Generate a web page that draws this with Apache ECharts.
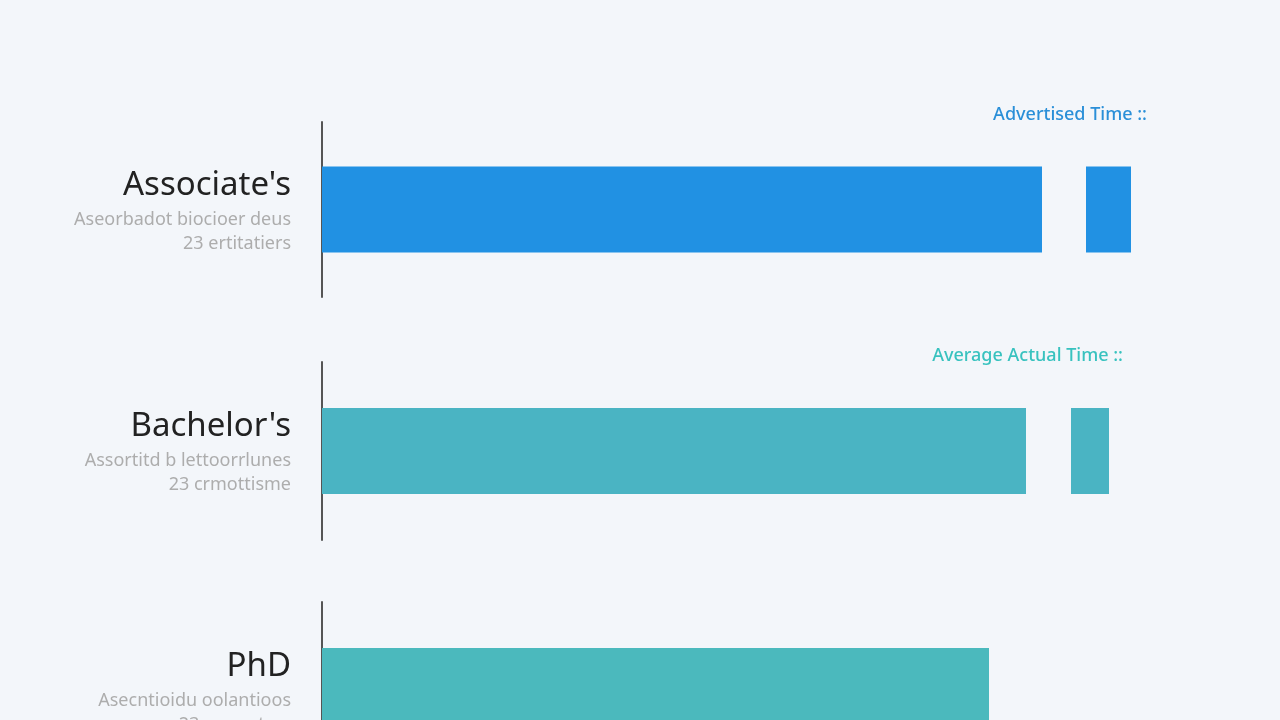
<!DOCTYPE html>
<html>
<head>
<meta charset="utf-8">
<script src="https://cdn.jsdelivr.net/npm/echarts@6/dist/echarts.min.js"></script>
<style>
  html, body { margin: 0; padding: 0; background: #f3f6fa; }
  #main { width: 1280px; height: 720px; }
</style>
</head>
<body>
<div id="main"></div>
<script>
// categories
var degrees = ["Associate's", "Bachelor's", "PhD"];
var subLine1 = ['Aseorbadot biocioer deus', 'Assortitd b lettoorrlunes', 'Asecntioidu oolantioos'];
var subLine2 = ['23 ertitatiers', '23 crmottisme', '23 semesters'];
// values (bar lengths)
var advertisedTime = [7.2, 7.04, 6.67];
var actualStart = [7.64, 7.49, null];
var actualEnd = [8.09, 7.87, null];
var barColors = ['#2191e3', '#4ab4c3', '#4bb9bd'];
var headNames = ['Advertised Time ::', 'Average Actual Time ::'];

(function() {
    var chart = echarts.init(document.getElementById('main'));
    var gridTops = [122, 362, 602];
    var gridHeights = [175, 178, 178];

    var grids = [], xAxes = [], yAxes = [], series = [];
    degrees.forEach(function(d, i) {
        grids.push({ left: 322, width: 900, top: gridTops[i], height: gridHeights[i], outerBoundsMode: 'none' });
        xAxes.push({ type: 'value', gridIndex: i, min: 0, max: 9, show: false });
        yAxes.push({
            type: 'category',
            gridIndex: i,
            data: [d],
            axisLine: { show: true, lineStyle: { color: '#555', width: 2 } },
            axisTick: { show: false },
            axisLabel: {
                margin: 31,
                align: 'right',
                formatter: function(v) {
                    return '{t|' + v + '}\n{s|' + subLine1[i] + '}\n{s|' + subLine2[i] + '}';
                },
                rich: {
                    t: { fontSize: 33, color: '#222', lineHeight: 44, fontFamily: 'Noto Sans', align: 'right' },
                    s: { fontSize: 18, color: '#adadad', lineHeight: 24, fontFamily: 'Noto Sans', align: 'right' }
                }
            }
        });
        //主条
        series.push({
            type: 'bar', xAxisIndex: i, yAxisIndex: i, stack: 's' + i,
            barWidth: 86, silent: true,
            itemStyle: { color: barColors[i] },
            data: [advertisedTime[i]]
        });
        //间隔（透明）
        series.push({
            type: 'bar', xAxisIndex: i, yAxisIndex: i, stack: 's' + i,
            barWidth: 86, silent: true,
            itemStyle: { color: 'transparent' },
            data: [actualStart[i] == null ? 0 : actualStart[i] - advertisedTime[i]]
        });
        //实际时间片段
        series.push({
            type: 'bar', xAxisIndex: i, yAxisIndex: i, stack: 's' + i,
            barWidth: 86, silent: true,
            itemStyle: { color: barColors[i] },
            data: [actualEnd[i] == null ? 0 : actualEnd[i] - actualStart[i]]
        });
    });

    var option = {
        backgroundColor: '#f3f6fa',
        animation: false,
        title: [{
            text: headNames[0],
            right: 128, top: 101,
            textStyle: { color: '#2a8fd8', fontSize: 18, fontWeight: 500, fontFamily: 'Noto Sans' }
        }, {
            text: headNames[1],
            right: 152, top: 342,
            textStyle: { color: '#38c2bf', fontSize: 18, fontWeight: 500, fontFamily: 'Noto Sans' }
        }],
        grid: grids,
        xAxis: xAxes,
        yAxis: yAxes,
        series: series
    };
    chart.setOption(option);
})()
</script>
</body>
</html>
